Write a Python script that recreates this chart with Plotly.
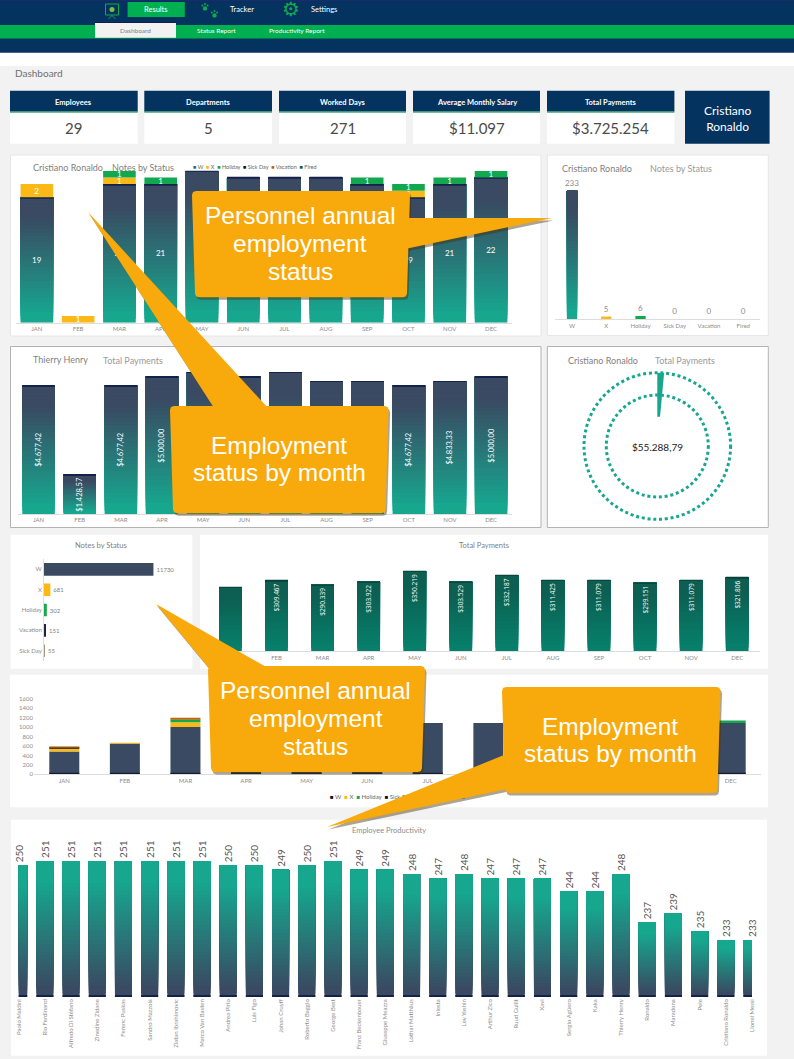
import plotly.graph_objects as go

W_PX, H_PX = 794, 1059

MONTHS = ["JAN", "FEB", "MAR", "APR", "MAY", "JUN", "JUL", "AUG", "SEP", "OCT", "NOV", "DEC"]
STATUS = ["W", "X", "Holiday", "Sick Day", "Vacation", "Fired"]
STATUS_COLORS = ["#1f6f7a", "#fdb813", "#12a84f", "#111111", "#c0650a", "#0a5a3a"]

KPI_NAMES = ["Employees", "Departments", "Worked Days", "Average Monthly Salary", "Total Payments"]
KPI_VALUES = ["29", "5", "271", "$11.097", "$3.725.254"]

# Cristiano Ronaldo, notes by month
cr_w = [19, 0, 21, 21, 23, 22, 22, 22, 21, 19, 21, 22]
cr_x = [2, 1, 1, 0, 0, 0, 0, 0, 0, 1, 0, 0]
cr_holiday = [0, 0, 1, 1, 0, 0, 0, 0, 1, 1, 1, 1]
cr_status_totals = [233, 5, 6, 0, 0, 0]

# Thierry Henry, payments by month
th_payments = [4677.42, 1428.57, 4677.42, 5000.00, 5166.67, 5000.00,
               5166.67, 4833.33, 4833.33, 4677.42, 4833.33, 5000.00]

cr_payment = 55288.79
all_payments = 3725254

# all staff
notes_names = ["W", "X", "Holiday", "Vacation", "Sick Day"]
notes_values = [11730, 681, 302, 151, 55]
notes_colors = ["#3a4a60", "#fdb813", "#18a84a", "#1a2548", "#a59a7a"]

payments_total = [281051, 309467, 290339, 303922, 350219, 303529,
                  332187, 311425, 311079, 299151, 311079, 321806]

all_w = [480, 650, 1000, 1040, 1087, 1087, 1087, 1087, 1040, 998, 1087, 1087]
all_x = [70, 10, 100, 110, 90, 60, 0, 0, 60, 121, 60, 0]
all_holiday = [0, 0, 60, 60, 0, 0, 0, 0, 50, 40, 42, 50]
all_sick = [15, 0, 0, 10, 10, 0, 0, 0, 10, 0, 10, 0]
all_vacation = [15, 0, 20, 30, 20, 0, 0, 0, 30, 16, 20, 0]

employees = ["Paolo Maldini", "Rio Ferdinand", "Alfredo Di Stéfano", "Zinedine Zidane",
             "Ferenc Puskas", "Sandro Mazzola", "Zlatan Ibrahimovic", "Marco Van Basten",
             "Andrea Pirlo", "Luis Figo", "Johan Cruyff", "Roberto Baggio", "George Best",
             "Franz Beckenbauer", "Giuseppe Meazza", "Lothar Matthäus", "Iniesta", "Lev Yashin",
             "Arthur Zico", "Ruud Gullit", "Xavi", "Sergio Agüero", "Kaka", "Thierry Henry",
             "Ronaldo", "Maradona", "Pele", "Cristiano Ronaldo", "Lionel Messi"]
productivity = [250, 251, 251, 251, 251, 251, 251, 251, 250, 250, 249, 250, 251, 249, 249,
                248, 247, 248, 247, 247, 247, 244, 244, 248, 237, 239, 235, 233, 233]

# months whose bar labels are covered by the orange callouts
covered_cr = ["MAY", "JUN", "JUL", "AUG", "SEP"]
covered_th = ["MAY", "JUN", "JUL", "AUG", "SEP"]
covered_total = ["JAN"]

FONT = "Lato"
NAVY = "#04335f"
GREEN = "#00b050"
TEAL = "#17a78f"
SLATE = "#3a4a62"
YELLOW = "#fbb917"
HOLIDAY = "#12a84f"
ORANGE = "#f8a90b"
GREY_TXT = "#7f7f7f"

fig = go.Figure()
shapes = []
annotations = []


def px(x, y):
    return x / W_PX, 1 - y / H_PX


def rect(x0, y0, x1, y1, fill, line=None, layer="below"):
    a, b = px(x0, y1)
    c, d = px(x1, y0)
    shapes.append(dict(type="rect", xref="paper", yref="paper", x0=a, y0=b, x1=c, y1=d,
                       fillcolor=fill, layer=layer,
                       line=dict(color=line or fill, width=1 if line else 0)))


def circle(cx, cy, r, fill="rgba(0,0,0,0)", line=None, width=0, dash="solid"):
    a, b = px(cx - r, cy + r)
    c, d = px(cx + r, cy - r)
    shapes.append(dict(type="circle", xref="paper", yref="paper", x0=a, y0=b, x1=c, y1=d,
                       fillcolor=fill, layer="below",
                       line=dict(color=line or fill, width=width, dash=dash)))


def poly(points, fill, layer="above", line_color=None, line_width=0):
    path = "M" + " L".join("%.5f,%.5f" % px(x, y) for x, y in points) + " Z"
    shapes.append(dict(type="path", path=path, xref="paper", yref="paper", fillcolor=fill,
                       layer=layer, line=dict(color=line_color or fill, width=line_width)))


def note(x, y, text, size=10, color=GREY_TXT, anchor="left", family=FONT):
    a, b = px(x, y)
    annotations.append(dict(x=a, y=b, xref="paper", yref="paper", text=text, showarrow=False,
                            xanchor=anchor, yanchor="middle", align="center",
                            font=dict(family=family, size=size, color=color)))


def mix(c0, c1, t):
    t = max(0, min(1, t))
    a = [int(c0[i:i + 2], 16) for i in (1, 3, 5)]
    b = [int(c1[i:i + 2], 16) for i in (1, 3, 5)]
    return "rgb(%d,%d,%d)" % tuple(a[i] + (b[i] - a[i]) * t for i in range(3))


def gradient_bars(x, values, axis, width, bottom=TEAL, top=SLATE, start=0, bands=36):
    # plotly bars have no gradient fill, so each bar is painted band over band,
    # every band runs up to the top of the bar so no seams show between them
    xa, ya = axis
    for i in range(bands):
        color = mix(bottom, top, (i / (bands - 1) - 0.05) / 0.8)
        fig.add_trace(go.Bar(
            x=x, y=[(v - start) * (bands - i) / bands for v in values],
            base=[start + (v - start) * i / bands for v in values],
            width=width, marker=dict(color=color, line=dict(width=0)),
            xaxis=xa, yaxis=ya, hoverinfo="skip", showlegend=False))


def label_bars(x, values, labels, axis, width, pos="inside", angle=0, color="white", size=8,
               base=None, anchor="middle", family=FONT):
    # see-through bars that only carry the value labels
    fig.add_trace(go.Bar(
        x=x, y=values, base=base, width=width, text=labels, textposition=pos, textangle=angle,
        insidetextanchor=anchor, constraintext="none", cliponaxis=False,
        textfont=dict(family=family, size=size, color=color),
        marker=dict(color="rgba(0,0,0,0)", line=dict(width=0)),
        xaxis=axis[0], yaxis=axis[1], hoverinfo="skip", showlegend=False))


def solid_bars(x, values, base, color, axis, width):
    fig.add_trace(go.Bar(
        x=x, y=values, base=base, width=width, marker=dict(color=color, line=dict(width=0)),
        xaxis=axis[0], yaxis=axis[1], hoverinfo="skip", showlegend=False))


def axes(n, x0, x1, y_top, y_bottom, cats, xrange, yrange, show_line=True, tick_angle=0, tick_size=6):
    suffix = str(n) if n > 1 else ""
    ax = dict(
        domain=[x0 / W_PX, x1 / W_PX], anchor="y" + suffix, type="category",
        categoryorder="array", categoryarray=cats, range=xrange,
        showgrid=False, zeroline=False, showline=show_line, linecolor="#dddddd", linewidth=1,
        ticks="", tickangle=tick_angle, tickfont=dict(family=FONT, size=tick_size, color="#8c8c8c"))
    ay = dict(domain=[1 - y_bottom / H_PX, 1 - y_top / H_PX], anchor="x" + suffix, range=yrange,
              visible=False, showgrid=False, zeroline=False)
    fig.update_layout({"xaxis" + suffix: ax, "yaxis" + suffix: ay})
    return "x" + suffix, "y" + suffix


def money(v, decimals=2):
    s = f"${v:,.{decimals}f}"
    return s.replace(",", "#").replace(".", ",").replace("#", ".")


def shown(labels, covered):
    return ["" if m in covered else t for m, t in zip(MONTHS, labels)]


# page background and header
rect(0, 66, W_PX, H_PX, "#f2f2f2")
rect(0, 0, W_PX, 52.5, NAVY)
rect(0, 0, W_PX, 1, "#1a2a6c")
rect(0, 51.5, W_PX, 52.5, "#1a2a6c")
rect(0, 25, W_PX, 38.5, GREEN)
rect(95, 22.7, 176, 37.7, "#f2f2f2")
rect(95, 22, 176, 23, "#111d44")
rect(127.6, 2, 184.8, 17, GREEN)
note(155.5, 9.5, "Results", 7.5, "white", "center")
note(242, 9.5, "Tracker", 7.5, "white", "center")
note(323.5, 9.5, "Settings", 7.5, "white", "center")
note(135.5, 30.8, "Dashboard", 6.5, "#7f7f7f", "center")
note(216, 30.8, "Status Report", 6.5, "white", "center")
note(296.5, 30.8, "Productivity Report", 6.5, "white", "center")
# menu icons
rect(105.5, 4, 118.5, 15, "rgba(0,0,0,0)", HOLIDAY)
circle(112, 9.5, 2.5, fill="#7fbf3f")
poly([(112, 15), (108, 19), (108.8, 19), (112, 16), (115.2, 19), (116, 19)], HOLIDAY, layer="below")
for cx, cy in ((205, 7), (214.5, 14)):
    circle(cx, cy + 1.4, 2.2, fill=HOLIDAY)
    for dx, dy in ((-2.6, -1.4), (0, -2.9), (2.6, -1.4)):
        circle(cx + dx, cy + dy, 1, fill=HOLIDAY)
note(291, 9, "⚙", 20, HOLIDAY, "center", "DejaVu Sans")

note(12.5, 73, "Dashboard", 10, "#6f6f6f")

# KPI cards
card_x = [(10, 137.7), (144.3, 272), (279, 406), (413, 540), (547, 674.4)]
for (x0, x1), name, value in zip(card_x, KPI_NAMES, KPI_VALUES):
    rect(x0, 111, x1, 143.7, "white")
    rect(x0, 90.7, x1, 111.7, NAVY)
    rect(x0, 111.2, x1, 112.7, "#3fa877")
    note((x0 + x1) / 2, 102, "<b>%s</b>" % name, 7.5, "white", "center")
    note((x0 + x1) / 2, 128.5, value, 15, "#4a4a4a", "center")
rect(685, 90.7, 769.6, 143.7, NAVY)
note(727.3, 118, "Cristiano<br>Ronaldo", 12, "white", "center")

# chart panels
rect(10.5, 155, 541, 336, "white", "#e6e6e6")
rect(547.3, 155, 768.3, 335.5, "white", "#e6e6e6")
rect(10.5, 346.5, 541, 527.5, "white", "#b3b3b3")
rect(547.3, 346.5, 768.3, 527.5, "white", "#b3b3b3")
rect(10.6, 534.7, 192.4, 668.7, "white")
rect(200, 534.7, 768, 668.7, "white")
rect(10, 674.7, 768, 807.3, "white")
rect(11, 819.7, 767, 1055.7, "white")

# Cristiano Ronaldo by month, stacked
ax1 = axes(1, 16.2, 511.7, 157.7, 322.7, MONTHS, [-0.5, 11.5], [0, 25])
gradient_bars(MONTHS, cr_w, ax1, 0.79)
solid_bars(MONTHS, [0.12 if v else 0 for v in cr_w], [max(v - 0.12, 0) for v in cr_w], "#14224a", ax1, 0.79)
solid_bars(MONTHS, cr_x, cr_w, YELLOW, ax1, 0.79)
cr_hbase = [a + b for a, b in zip(cr_w, cr_x)]
solid_bars(MONTHS, cr_holiday, cr_hbase, HOLIDAY, ax1, 0.79)
label_bars(MONTHS, cr_w, shown([str(v) if v else "" for v in cr_w], covered_cr), ax1, 0.79, size=8)
label_bars(MONTHS, cr_x, [str(v) if v else "" for v in cr_x], ax1, 0.79, base=cr_w, size=8)
label_bars(MONTHS, cr_holiday, [str(v) if v else "" for v in cr_holiday], ax1, 0.79, base=cr_hbase, size=8)
note(31, 167.3, "Cristiano Ronaldo", 9)
note(110, 167.3, "Notes by Status", 9)
legend_text = "  ".join('<span style="color:%s">■</span> %s' % (c, s) for s, c in zip(STATUS, STATUS_COLORS))
note(190.5, 167.3, legend_text, 5.5, "#666666")

# Cristiano Ronaldo by status
ax2 = axes(2, 554.9, 760.4, 181.3, 319.3, STATUS, [-0.5, 5.5], [0, 250])
gradient_bars(STATUS[:1], cr_status_totals[:1], ax2, 0.3)
solid_bars(STATUS[1:3], cr_status_totals[1:3], None, [YELLOW, HOLIDAY], ax2, 0.3)
label_bars(STATUS, cr_status_totals, [str(v) for v in cr_status_totals], ax2, 0.3, pos="outside",
           color="#8c8c8c", size=8)
note(560, 168, "Cristiano Ronaldo", 9)
note(647.5, 168, "Notes by Status", 9, "#9a9a9a")

# Thierry Henry payments
ax3 = axes(3, 18, 511.7, 363, 514, MONTHS, [-0.5, 11.5], [0, 5500])
gradient_bars(MONTHS, th_payments, ax3, 0.79)
solid_bars(MONTHS, [25] * 12, [v - 25 for v in th_payments], "#14224a", ax3, 0.79)
label_bars(MONTHS, th_payments, shown([money(v) for v in th_payments], covered_th), ax3, 0.79, angle=-90, size=7.5)
note(31, 359.5, "Thierry Henry", 9)
note(100.7, 360.5, "Total Payments", 9, "#9a9a9a")

# ring with Cristiano Ronaldo's share of all payments
circle(657.3, 446, 73.3, line=TEAL, width=3, dash="3px,2.8px")
circle(657.3, 446, 51, line=TEAL, width=3, dash="3px,2.8px")
fig.add_trace(go.Pie(
    values=[cr_payment, all_payments - cr_payment], hole=0.4, sort=False, direction="clockwise",
    rotation=0, textinfo="none", hoverinfo="skip", showlegend=False,
    marker=dict(colors=[TEAL, "rgba(0,0,0,0)"], line=dict(width=0)),
    domain=dict(x=[584 / W_PX, 730.6 / W_PX], y=[1 - 519.3 / H_PX, 1 - 372.7 / H_PX])))
note(657.3, 446.5, money(cr_payment), 10, "#222222", "center")
note(566, 360, "Cristiano Ronaldo", 9)
note(652.5, 360, "Total Payments", 9, "#9a9a9a")

# notes by status, all staff
ax4 = axes(4, 44, 165.3, 559.2, 660.9, notes_names, [4.5, -0.5], [0, 13000])
fig.add_trace(go.Bar(
    y=notes_names, x=notes_values, orientation="h", width=0.62, text=[str(v) for v in notes_values],
    textposition="outside", constraintext="none", cliponaxis=False,
    textfont=dict(family=FONT, size=6, color="#7f7f7f"),
    marker=dict(color=notes_colors, line=dict(width=0)),
    xaxis="x4", yaxis="y4", hoverinfo="skip", showlegend=False))
fig.update_layout(
    xaxis4=dict(domain=[44 / W_PX, 165.3 / W_PX], anchor="y4", range=[0, 13000], visible=False,
                type="linear", categoryorder=None, categoryarray=None),
    yaxis4=dict(domain=[1 - 660.9 / H_PX, 1 - 559.2 / H_PX], anchor="x4", type="category",
                categoryorder="array", categoryarray=notes_names, range=[4.5, -0.5], visible=True,
                showgrid=False, zeroline=False, showline=True, linecolor="#dddddd", ticks="",
                tickfont=dict(family=FONT, size=6, color="#8c8c8c")))
note(101, 545.7, "Notes by Status", 7.5, "#7f7f7f", "center")

# total payments, all staff
ax5 = axes(5, 207.4, 760.2, 559.7, 651.3, MONTHS, [-0.5, 11.5], [0, 400000])
gradient_bars(MONTHS, payments_total, ax5, 0.495, bottom="#07806b", top="#0d5f52", bands=20)
solid_bars(MONTHS, [1800] * 12, [v - 1800 for v in payments_total], "#0a3f3a", ax5, 0.495)
label_bars(MONTHS, payments_total, shown([money(v, 0) for v in payments_total], covered_total), ax5, 0.495,
           angle=-90, size=6.5, anchor="end", family="Open Sans")
note(483.5, 545.7, "Total Payments", 7.5, "#7f7f7f", "center")

# stacked months, all staff
ax6 = axes(6, 34, 761, 698.7, 774.3, MONTHS, [-0.5, 11.5], [0, 1600])
fig.update_layout(yaxis6=dict(visible=True, tickmode="linear", tick0=0, dtick=200, showline=False, ticks="",
                              tickfont=dict(family=FONT, size=6, color="#8c8c8c")))
base = [0] * 12
for series, color in ((all_w, SLATE), (all_x, YELLOW), (all_holiday, HOLIDAY),
                      (all_sick, "#111111"), (all_vacation, "#c0650a")):
    solid_bars(MONTHS, series, list(base), color, ax6, 0.495)
    base = [a + b for a, b in zip(base, series)]
solid_bars(MONTHS, [24] * 12, [0] * 12, "#151c30", ax6, 0.495)

# employee productivity, axis starts at 220 and clips the two outer bars
ax7 = axes(7, 18.7, 752, 842, 997, employees, [0, 28], [220, 255.3], show_line=False, tick_angle=-90)
gradient_bars(employees, productivity, ax7, 0.65, bottom=SLATE, top=TEAL, start=220)
solid_bars(employees, [0.25] * 29, [220] * 29, "#14224a", ax7, 0.65)
label_bars(employees, [v - 220 for v in productivity], [str(v) for v in productivity], ax7, 0.65,
           pos="outside", angle=-90, color="#555555", size=10, base=[220] * 29)
note(389, 830, "Employee Productivity", 7.5, "#8c8c8c", "center")

# legend of the stacked chart sits under the callout, so it is a trace and not an annotation
legend2 = "  ".join('<span style="color:%s">■</span> %s' % (c, s)
                    for s, c in zip(STATUS, ["#111111"] + STATUS_COLORS[1:]))
fig.add_trace(go.Scatter(x=[330], y=[797], mode="text", text=[legend2], textposition="middle right",
                         textfont=dict(family=FONT, size=6, color="#666666"), cliponaxis=False,
                         xaxis="x8", yaxis="y8", hoverinfo="skip", showlegend=False))
fig.update_layout(
    xaxis8=dict(domain=[0, 1], range=[0, W_PX], visible=False, anchor="y8"),
    yaxis8=dict(domain=[0, 1], range=[H_PX, 0], visible=False, anchor="x8"))


def callout(x0, y0, x1, y1, tip):
    # tip is the polygon of the pointer, the box gets cut corners for the rounding
    r = 4
    box = [(x0 + r, y0), (x1 - r, y0), (x1 - 1, y0 + 1), (x1, y0 + r), (x1 - 3, y1 - r), (x1 - 4, y1 - 1),
           (x1 - 7, y1), (x0 + 7, y1), (x0 + 4, y1 - 1), (x0 + 3, y1 - r), (x0, y0 + r), (x0 + 1, y0 + 1)]
    shadow = "rgba(70,50,10,0.45)"
    poly([(x + 1.5, y + 2.5) for x, y in tip], shadow)
    poly([(x + 1.5, y + 2.5) for x, y in box], shadow)
    poly(tip, ORANGE)
    poly(box, ORANGE)


callout(192, 191, 410, 297.3, [(552, 218), (405, 218), (405, 249)])
callout(170, 406, 388.6, 513.3, [(88, 212), (214, 408), (268, 408)])
callout(208, 666, 425, 772, [(156, 604), (209, 668), (268, 668)])
callout(502, 687, 720.5, 793, [(327, 827), (504, 755), (507, 789)])
HEAD = "Liberation Sans"
for x, y, line in ((300, 215.5, "Personnel annual"), (300, 243.5, "employment"), (300, 271.5, "status"),
                   (279, 445, "Employment"), (279, 473, "status by month"),
                   (315.5, 690.5, "Personnel annual"), (315.5, 718.5, "employment"), (315.5, 746.5, "status"),
                   (610, 726, "Employment"), (610, 753.5, "status by month")):
    note(x, y, line, 24.5, "white", "center", HEAD)

fig.update_layout(
    width=W_PX, height=H_PX, margin=dict(l=0, r=0, t=0, b=0), barmode="overlay",
    paper_bgcolor="white", plot_bgcolor="rgba(0,0,0,0)", showlegend=False,
    shapes=shapes, annotations=annotations, font=dict(family=FONT))
# the default template turns automargin on, which shrinks a zero-margin page
fig.update_xaxes(automargin=False)
fig.update_yaxes(automargin=False)

fig.write_html("out.html", config={"displayModeBar": False},
               post_script="document.body.style.margin='0';")
